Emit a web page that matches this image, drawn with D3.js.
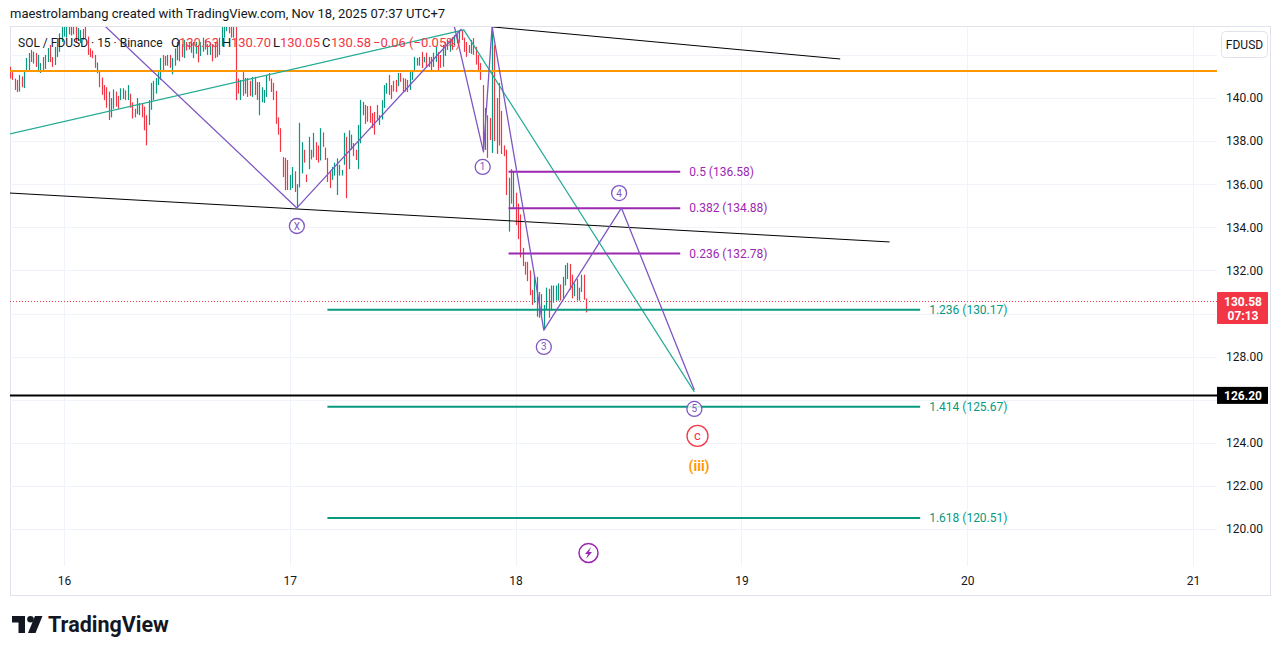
<!DOCTYPE html>
<html>
<head>
<meta charset="utf-8">
<script src="https://cdn.jsdelivr.net/npm/d3@7"></script>
<style>
  html, body { margin: 0; padding: 0; background: #fff; }
  svg { display: block; font-family: Roboto, "Noto Sans", sans-serif; }
</style>
</head>
<body>
<svg id="chart" width="1281" height="654"></svg>
<script>
// NOTE: first 15m bar of the visible range, bars follow every 15 minutes
const firstBarTime = '2025-11-15T18:15'

// NOTE: [open, high, low, close] per 15m bar
const candles = [
  [141.39,141.45,140.90,140.95],[141.10,141.20,140.84,140.90],[140.84,140.90,140.37,140.45],[140.80,140.84,140.28,140.35],
  [140.35,141.07,140.30,140.95],[140.95,141.00,140.50,140.60],[140.55,141.21,140.46,141.15],[141.25,141.86,141.20,141.80],
  [141.40,142.09,141.30,142.00],[142.10,142.23,141.67,141.75],[141.75,142.15,141.60,142.05],[142.05,142.09,141.44,141.50],
  [141.40,142.00,141.21,141.90],[141.20,141.62,141.16,141.55],[141.85,141.90,141.30,141.35],[141.40,142.00,141.35,141.95],
  [141.70,142.32,141.67,142.25],[142.40,142.46,141.67,141.75],[141.85,141.90,141.44,141.50],[141.55,142.37,141.53,142.30],
  [142.00,142.78,141.90,142.70],[142.20,143.00,142.14,142.90],[142.60,143.40,142.60,143.30],[142.90,143.60,142.85,143.45],
  [143.00,143.55,142.80,143.40],[143.45,143.60,142.95,143.05],[143.00,143.50,142.90,143.35],[143.40,143.55,142.95,143.00],
  [143.20,143.30,142.60,142.70],[142.75,143.25,142.65,143.15],[142.60,143.16,142.55,143.05],[143.10,143.20,142.70,142.80],
  [143.20,143.30,142.78,142.85],[142.80,142.85,142.00,142.10],[142.10,142.30,141.90,142.00],[142.00,142.20,141.85,141.90],
  [141.90,142.00,141.40,141.45],[141.20,141.65,141.15,141.55],[141.20,141.25,140.50,140.55],[140.60,140.95,140.15,140.20],
  [140.40,140.60,139.90,140.00],[140.30,140.50,139.55,139.60],[139.90,140.30,138.98,139.20],[139.20,140.00,139.10,139.90],
  [139.60,140.40,139.50,140.30],[140.30,140.30,139.60,139.70],[139.90,140.10,139.50,139.60],[139.95,140.45,139.90,140.35],
  [140.00,140.45,139.95,140.30],[140.30,140.35,139.90,139.95],[139.95,140.60,139.90,140.50],[140.20,140.20,139.55,139.60],
  [139.75,139.80,139.05,139.10],[139.30,139.50,139.10,139.20],[139.30,140.00,139.25,139.90],[139.30,139.77,139.20,139.70],
  [139.70,139.75,139.10,139.20],[139.50,139.60,138.50,138.60],[139.20,139.20,137.80,138.20],[138.80,139.90,138.75,139.80],
  [139.50,140.70,139.45,140.55],[140.00,140.80,139.90,140.60],[140.30,140.93,140.20,140.85],[140.60,141.20,140.60,141.15],
  [140.90,141.86,140.84,141.70],[141.90,142.00,141.20,141.30],[141.90,141.95,141.50,141.60],[141.60,142.00,141.50,141.90],
  [142.00,142.00,141.40,141.45],[141.20,141.86,141.10,141.80],[141.50,142.30,141.50,142.20],[141.80,142.60,141.75,142.50],
  [142.60,142.70,141.70,141.80],[142.40,142.50,141.90,141.95],[141.90,142.70,141.85,142.60],[142.60,142.60,142.20,142.25],
  [142.50,142.55,142.25,142.30],[142.20,142.60,142.10,142.50],[141.90,142.60,141.85,142.50],[142.10,142.60,142.05,142.55],
  [142.40,142.45,141.65,141.75],[142.00,142.60,141.95,142.50],[142.20,142.80,142.15,142.70],[142.60,142.70,142.25,142.30],
  [142.10,142.50,142.00,142.40],[142.00,142.60,142.00,142.50],[142.50,142.50,141.70,141.75],[142.30,142.55,141.85,141.90],
  [142.40,142.60,141.90,142.00],[142.00,142.80,142.00,142.70],[142.50,143.30,142.40,143.10],[142.90,143.40,142.80,143.30],
  [143.10,143.50,143.10,143.40],[143.40,143.50,143.00,143.10],[143.30,143.30,142.80,142.90],[142.90,143.40,142.80,143.20],
  [143.20,143.30,139.90,140.10],[140.60,140.90,140.20,140.30],[140.00,140.84,139.91,140.70],[140.90,141.20,140.10,140.20],
  [140.50,140.93,140.20,140.85],[140.90,140.93,140.05,140.15],[140.60,140.80,140.10,140.20],[140.20,140.98,140.05,140.90],
  [140.90,140.98,140.14,140.25],[140.70,140.74,139.91,140.00],[139.40,140.74,139.20,140.60],[139.90,140.50,139.80,140.40],
  [139.90,140.37,139.77,140.30],[140.10,141.07,140.05,140.95],[141.10,141.16,140.80,140.85],[140.84,140.90,140.28,140.35],
  [140.60,140.70,139.90,140.00],[140.30,140.33,138.80,138.90],[139.00,139.10,138.30,138.40],[138.60,138.60,137.50,137.60],
  [137.20,137.26,136.33,136.40],[137.20,137.22,135.73,135.80],[137.10,137.12,135.73,135.80],[135.75,136.43,135.73,136.35],
  [135.85,136.80,135.82,136.70],[136.57,136.60,135.64,135.70],[135.60,136.00,134.90,135.90],[135.90,138.85,135.85,138.70],
  [136.60,137.95,136.50,137.80],[137.60,137.60,137.00,137.05],[136.43,136.45,136.10,136.15],[136.80,138.20,136.70,138.00],
  [137.60,137.60,137.15,137.20],[137.30,138.38,137.25,138.30],[137.90,137.95,137.12,137.20],[137.60,137.80,137.00,137.10],
  [137.20,138.60,137.10,138.50],[138.38,138.40,137.73,137.80],[137.65,137.70,137.12,137.20],[137.20,137.22,136.10,136.20],
  [136.57,136.60,135.82,135.90],[136.40,136.80,136.20,136.70],[136.50,137.00,136.40,136.90],[135.60,137.20,135.50,137.10],
  [136.50,136.90,136.40,136.80],[136.45,136.66,136.40,136.60],[137.00,138.38,136.90,138.20],[138.20,138.20,135.35,135.60],
  [136.80,138.50,136.70,138.40],[137.70,138.30,137.60,138.20],[137.90,137.91,137.30,137.40],[137.55,137.60,137.12,137.20],
  [136.80,138.75,136.70,138.60],[138.00,139.91,137.90,139.80],[139.30,139.82,139.20,139.70],[139.60,139.68,138.80,138.85],
  [139.50,139.63,138.90,139.00],[139.60,139.63,138.85,138.90],[139.30,139.30,138.60,138.65],[139.30,139.35,138.30,138.40],
  [139.60,139.68,139.00,139.10],[138.90,139.20,138.75,139.10],[139.10,139.90,139.00,139.80],[139.60,140.60,139.54,140.50],
  [140.20,140.70,140.20,140.60],[140.90,141.07,140.14,140.20],[140.60,140.60,139.95,140.05],[140.70,140.80,140.30,140.35],
  [140.80,140.84,140.28,140.30],[140.60,141.16,140.55,141.10],[141.15,141.16,140.75,140.80],[140.90,140.93,140.25,140.30],
  [140.80,140.90,140.30,140.35],[140.80,140.84,140.28,140.35],[140.40,141.21,140.37,141.10],[140.90,141.21,140.84,141.15],
  [141.20,141.91,141.20,141.85],[141.60,141.86,141.50,141.80],[141.60,141.90,141.50,141.85],[142.10,142.14,141.39,141.45],
  [141.70,141.91,141.65,141.85],[142.10,142.10,141.44,141.50],[141.80,141.91,141.44,141.50],[141.85,141.91,141.30,141.40],
  [141.50,142.10,141.44,142.00],[141.70,142.37,141.67,142.30],[142.00,142.14,141.30,141.40],[141.90,142.00,141.40,141.45],
  [141.50,142.46,141.45,142.40],[142.00,142.60,141.95,142.55],[142.70,142.70,142.23,142.30],[142.20,142.78,142.15,142.70],
  [142.80,142.83,142.23,142.30],[142.50,142.92,142.45,142.85],[142.60,142.95,142.55,142.90],[142.60,143.16,142.55,143.10],
  [143.15,143.16,142.69,142.75],[142.78,142.80,142.14,142.20],[142.60,142.60,141.91,142.00],[142.40,142.46,142.09,142.15],
  [142.10,142.69,142.05,142.60],[142.70,142.78,142.00,142.05],[142.30,142.37,141.55,141.60],[142.00,142.00,141.20,141.25],
  [141.60,141.62,140.84,140.90],[140.60,140.60,137.60,137.80],[137.70,139.54,137.59,139.40],[139.15,139.20,137.22,137.50],
  [139.00,139.07,138.05,138.20],[137.60,143.30,137.45,142.40],[142.40,142.45,138.00,138.40],[138.40,140.00,137.40,137.70],
  [140.40,140.70,137.80,138.00],[138.00,139.40,137.40,137.60],[137.60,137.80,137.30,137.40],[137.50,137.60,135.50,135.70],
  [135.70,136.30,133.80,136.10],[136.10,136.70,135.10,135.30],[135.30,136.60,134.90,136.40],[135.50,135.60,134.10,134.30],
  [134.30,135.10,133.45,133.60],[133.60,134.60,132.60,132.80],[132.80,133.05,132.20,132.30],[132.30,132.40,131.80,131.90],
  [131.90,132.40,131.50,131.60],[131.60,132.00,130.85,130.95],[130.95,131.10,130.40,130.50],[130.50,131.80,130.50,131.60],
  [130.20,131.70,129.85,131.50],[131.00,131.00,129.80,130.00],[130.00,130.90,129.90,130.60],[129.60,130.40,129.25,130.30],
  [130.30,131.20,130.20,131.00],[131.00,131.15,129.80,130.10],[130.20,131.30,130.15,131.10],[130.60,131.30,130.50,131.20],
  [131.00,131.30,130.60,131.25],[130.80,131.40,130.60,131.30],[131.30,131.35,130.60,130.80],[130.80,131.70,130.70,131.60],
  [131.60,132.25,131.30,132.10],[132.00,132.35,131.60,132.20],[132.20,132.30,131.10,131.30],[131.30,131.80,130.70,130.90],
  [130.90,131.40,130.80,131.30],[131.30,131.60,130.60,130.70],[130.70,131.20,130.60,131.10],[131.10,131.80,131.00,131.70],
  [131.70,131.80,130.64,130.64],[130.63,130.70,130.05,130.58],
]

// NOTE: axes (130 and 126 are hidden behind the badges)
const priceTicks = [120, 122, 124, 128, 132, 134, 136, 138, 140]
const gridPrices = [118, 120, 122, 124, 126, 128, 130, 132, 134, 136, 138, 140, 142]
const dayTicks = ['2025-11-16T00:00', '2025-11-17T00:00', '2025-11-18T00:00', '2025-11-19T00:00', '2025-11-20T00:00', '2025-11-21T00:00']
const dayLabels = ['16', '17', '18', '19', '20', '21']

// NOTE: legend values shown by the chart
const legendChange = '−0.06 (−0.05%)'

// NOTE: horizontal levels
const orangeLevel = 141.25
const blackLevel = 126.20
const lastPrice = 130.58
const countdown = '07:13'

// NOTE: drawings as [time, price]
const xLegLine = [['2025-11-16T04:15', 143.38], ['2025-11-17T00:45', 134.90], ['2025-11-17T18:15', 143.20]]
const waveLine = [
  ['2025-11-17T17:30', 143.30], ['2025-11-17T20:35', 137.50], ['2025-11-17T21:30', 143.30],
  ['2025-11-18T03:00', 129.23], ['2025-11-18T11:15', 134.90], ['2025-11-18T19:00', 126.45],
]
const tealLine = [['2025-11-15T18:15', 138.33], ['2025-11-17T18:30', 143.16], ['2025-11-18T19:00', 126.36]]
const blackLower = [['2025-11-15T18:15', 135.59], ['2025-11-19T15:45', 133.32]]
const blackUpper = [['2025-11-17T21:30', 143.30], ['2025-11-19T10:30', 141.81]]

const retraceSpan = ['2025-11-17T23:15', '2025-11-18T17:30']
const retraceLevels = ['0.5', '0.382', '0.236']
const retracePrices = [136.58, 134.88, 132.78]
const extensionSpan = ['2025-11-17T04:00', '2025-11-19T19:00']
const extensionLevels = ['1.236', '1.414', '1.618']
const extensionPrices = [130.17, 125.67, 120.51]

const waveLabels = [
  ['X', '2025-11-17T00:45', 134.06], ['1', '2025-11-17T20:30', 136.80], ['3', '2025-11-18T03:00', 128.45],
  ['4', '2025-11-18T11:00', 135.59], ['5', '2025-11-18T19:00', 125.57],
]
const cLabel = ['c', '2025-11-18T19:20', 124.32]
const degreeLabel = ['(iii)', '2025-11-18T19:30', 122.92]
const flashMark = ['2025-11-18T07:45', 118.89]

// NOTE: colors
const UP = '#089981'
const DOWN = '#f23645'
const WAVE = '#7e57c2'
const FIB = '#9c27b0'
const TEXT = '#131722'

const parseTime = d3.timeParse('%Y-%m-%dT%H:%M')
const plot = { left: 10, top: 27, right: 1217, bottom: 566 }

const xScale = d3.scaleTime()
  .domain([parseTime(dayTicks[0]), parseTime(dayTicks[5])])
  .range([64, 1193])
const yScale = d3.scaleLinear().domain([120, 140]).range([529, 98])

const svg = d3.select('#chart')

// NOTE: frame
svg.append('rect')
  .attr('x', 10.5).attr('y', 26.5).attr('width', 1260).attr('height', 569)
  .attr('fill', 'none').attr('stroke', '#e0e3eb')

svg.append('clipPath').attr('id', 'plot-clip')
  .append('rect')
  .attr('x', plot.left).attr('y', plot.top)
  .attr('width', plot.right - plot.left).attr('height', plot.bottom - plot.top)

const area = svg.append('g').attr('clip-path', 'url(#plot-clip)')

// NOTE: grid
area.append('g').selectAll('line').data(gridPrices).join('line')
  .attr('x1', plot.left).attr('x2', plot.right)
  .attr('y1', (d) => Math.round(yScale(d)) + 0.5).attr('y2', (d) => Math.round(yScale(d)) + 0.5)
  .attr('stroke', '#f0f3fa')
area.append('g').selectAll('line').data(dayTicks).join('line')
  .attr('x1', (d) => Math.round(xScale(parseTime(d))) + 0.5).attr('x2', (d) => Math.round(xScale(parseTime(d))) + 0.5)
  .attr('y1', plot.top).attr('y2', plot.bottom)
  .attr('stroke', '#f0f3fa')

// NOTE: candles, drawn 1px wide like the zoomed-out chart
const firstBar = parseTime(firstBarTime)
area.append('g').selectAll('line').data(candles).join('line')
  .attr('x1', (d, i) => Math.round(xScale(d3.timeMinute.offset(firstBar, 15 * i))) + 0.5)
  .attr('x2', (d, i) => Math.round(xScale(d3.timeMinute.offset(firstBar, 15 * i))) + 0.5)
  .attr('y1', (d) => yScale(d[1]))
  .attr('y2', (d) => yScale(d[2]))
  .attr('stroke', (d) => (d[3] >= d[0] ? UP : DOWN))
  .attr('stroke-width', 1.2)

// NOTE: last price dotted line
area.append('line')
  .attr('x1', plot.left).attr('x2', plot.right)
  .attr('y1', Math.round(yScale(lastPrice)) + 0.5).attr('y2', Math.round(yScale(lastPrice)) + 0.5)
  .attr('stroke', DOWN).attr('stroke-dasharray', '1,2')

const pathLine = d3.line()
  .x((d) => xScale(parseTime(d[0])))
  .y((d) => yScale(d[1]))

const drawPath = (points, color, width) => {
  area.append('path')
    .attr('d', pathLine(points))
    .attr('fill', 'none')
    .attr('stroke', color)
    .attr('stroke-width', width)
    .attr('stroke-linejoin', 'round')
}

const drawLevel = (price, color, width) => {
  area.append('line')
    .attr('x1', plot.left).attr('x2', plot.right)
    .attr('y1', yScale(price)).attr('y2', yScale(price))
    .attr('stroke', color).attr('stroke-width', width)
}

// NOTE: horizontal levels
drawLevel(orangeLevel, '#ff9800', 2)
drawLevel(blackLevel, '#000', 2)

// NOTE: trend / channel lines
drawPath(tealLine, '#22ab94', 1.2)
drawPath(blackLower, '#000', 1)
drawPath(blackUpper, '#000', 1)

// NOTE: fib retracement + extension
const drawFib = (span, levels, prices, color) => {
  const x1 = xScale(parseTime(span[0]))
  const x2 = xScale(parseTime(span[1]))
  prices.forEach((p, i) => {
    area.append('line')
      .attr('x1', x1).attr('x2', x2)
      .attr('y1', yScale(p)).attr('y2', yScale(p))
      .attr('stroke', color).attr('stroke-width', 2)
    area.append('text')
      .attr('x', x2 + 9).attr('y', yScale(p))
      .attr('dominant-baseline', 'central')
      .attr('font-size', 12)
      .attr('fill', color)
      .text(`${levels[i]} (${p.toFixed(2)})`)
  })
}
drawFib(retraceSpan, retraceLevels, retracePrices, FIB)
drawFib(extensionSpan, extensionLevels, extensionPrices, UP)

// NOTE: wave lines
drawPath(xLegLine, WAVE, 1.3)
drawPath(waveLine, WAVE, 1.3)

// NOTE: wave point labels
waveLabels.forEach(([name, t, p]) => {
  const g = area.append('g')
    .attr('transform', `translate(${xScale(parseTime(t))},${yScale(p)})`)
  g.append('circle').attr('r', 7.5).attr('fill', '#fff').attr('fill-opacity', 0.8)
    .attr('stroke', WAVE).attr('stroke-width', 1.3)
  g.append('text').attr('text-anchor', 'middle').attr('dominant-baseline', 'central')
    .attr('font-size', 10).attr('fill', WAVE).text(name)
})

const cGroup = area.append('g')
  .attr('transform', `translate(${xScale(parseTime(cLabel[1]))},${yScale(cLabel[2])})`)
cGroup.append('circle').attr('r', 10.5).attr('fill', '#fff').attr('stroke', DOWN).attr('stroke-width', 1.3)
cGroup.append('text').attr('text-anchor', 'middle').attr('dominant-baseline', 'central')
  .attr('font-size', 13).attr('fill', DOWN).text(cLabel[0])

area.append('text')
  .attr('x', xScale(parseTime(degreeLabel[1]))).attr('y', yScale(degreeLabel[2]))
  .attr('text-anchor', 'middle').attr('dominant-baseline', 'central')
  .attr('font-size', 14).attr('font-weight', 'bold').attr('fill', '#ff9800')
  .text(degreeLabel[0])

// NOTE: flash event marker
const flash = area.append('g')
  .attr('transform', `translate(${xScale(parseTime(flashMark[0]))},${yScale(flashMark[1])})`)
flash.append('circle').attr('r', 9.5).attr('fill', '#fff').attr('stroke', FIB).attr('stroke-width', 1.5)
flash.append('path').attr('d', 'M2.5,-6 L-3.5,1 L-0.5,1 L-2.5,6 L3.5,-1 L0.5,-1 Z').attr('fill', FIB)

// NOTE: price axis
const priceAxis = svg.append('g')
  .attr('transform', 'translate(1226,0)')
  .call(d3.axisRight(yScale).tickValues(priceTicks).tickFormat(d3.format('.2f')).tickSize(0).tickPadding(0))
priceAxis.select('.domain').remove()
priceAxis.selectAll('text').attr('font-size', 12).attr('fill', TEXT).attr('font-family', 'Roboto, sans-serif')

// NOTE: time axis
const timeAxis = svg.append('g')
  .attr('transform', `translate(0,${plot.bottom})`)
  .call(d3.axisBottom(xScale)
    .tickValues(dayTicks.map(parseTime))
    .tickFormat((d, i) => dayLabels[i])
    .tickSize(0).tickPadding(10))
timeAxis.select('.domain').remove()
timeAxis.selectAll('text').attr('font-size', 12).attr('fill', TEXT).attr('font-family', 'Roboto, sans-serif')

// NOTE: currency button
svg.append('rect')
  .attr('x', 1221.5).attr('y', 31.5).attr('width', 46).attr('height', 26).attr('rx', 4)
  .attr('fill', '#fff').attr('stroke', '#e0e3eb')
svg.append('text').attr('x', 1244.5).attr('y', 48.5).attr('text-anchor', 'middle')
  .attr('font-size', 12).attr('fill', TEXT).text('FDUSD')

// NOTE: last price badge
const yLast = yScale(lastPrice)
svg.append('rect').attr('x', 1217).attr('y', yLast - 9).attr('width', 51).attr('height', 32).attr('rx', 1).attr('fill', DOWN)
svg.append('text').attr('x', 1243).attr('y', yLast + 4.5).attr('text-anchor', 'middle')
  .attr('font-size', 12).attr('font-weight', 'bold').attr('fill', '#fff').text(lastPrice.toFixed(2))
svg.append('text').attr('x', 1243).attr('y', yLast + 18.5).attr('text-anchor', 'middle')
  .attr('font-size', 12).attr('font-weight', 'bold').attr('fill', '#fff').text(countdown)

// NOTE: black level badge
const yBlack = yScale(blackLevel)
svg.append('rect').attr('x', 1217).attr('y', yBlack - 8.5).attr('width', 51).attr('height', 17).attr('fill', '#000')
svg.append('text').attr('x', 1243).attr('y', yBlack + 4.5).attr('text-anchor', 'middle')
  .attr('font-size', 12).attr('font-weight', 'bold').attr('fill', '#fff').text(blackLevel.toFixed(2))

// NOTE: header
svg.append('text').attr('x', 10).attr('y', 18).attr('font-size', 13).attr('fill', TEXT)
  .text('maestrolambang created with TradingView.com, Nov 18, 2025 07:37 UTC+7')

// NOTE: legend, OHLC of the last bar
const last = candles[candles.length - 1]
const legendParts = [
  ['SOL / FDUSD · 15 · Binance', 18, TEXT, 12],
  ['O', 171, TEXT, 13], [last[0].toFixed(2), 179, DOWN, 13],
  ['H', 222, TEXT, 13], [last[1].toFixed(2), 231, DOWN, 13],
  ['L', 273, TEXT, 13], [last[2].toFixed(2), 280, DOWN, 13],
  ['C', 322, TEXT, 13], [last[3].toFixed(2), 331, DOWN, 13],
  [legendChange, 373, DOWN, 13],
]
legendParts.forEach(([txt, x, color, size]) => {
  svg.append('text').attr('x', x).attr('y', 47).attr('font-size', size).attr('fill', color).text(txt)
})

// NOTE: footer logo
const logo = svg.append('g').attr('transform', 'translate(12,616)').attr('fill', TEXT)
logo.append('path').attr('d', 'M0,0 H13 V17 H6.5 V6.5 H0 Z')
logo.append('circle').attr('cx', 18.5).attr('cy', 3.3).attr('r', 3.3)
logo.append('path').attr('d', 'M23,0 H30.5 L23.5,17 H16 Z')
svg.append('text').attr('x', 48).attr('y', 632).attr('font-size', 21.5).attr('font-weight', 'bold')
  .attr('fill', TEXT).text('TradingView')
</script>
</body>
</html>
